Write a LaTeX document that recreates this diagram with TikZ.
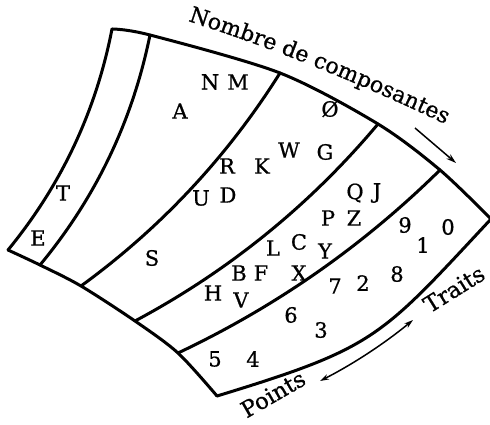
\documentclass[tikz,border=0pt]{standalone}
\usepackage{fontspec}
\setmainfont{DejaVu Serif}[FakeBold=0.8]
\usetikzlibrary{arrows.meta,decorations.text}
\begin{document}
\begin{tikzpicture}[x=1pt,y=-1pt,
  edge/.style={line width=3pt, line cap=round, line join=round},
  lbl/.style={font=\fontsize{21}{25}\selectfont, inner sep=0pt},
  axislbl/.style={font=\fontsize{22.5}{27}\selectfont, inner sep=0pt},
  arr/.style={line width=1.5pt}]
\useasboundingbox (0,0) rectangle (490,425);
% junctions on the outer (top) arc
\coordinate (t0) at (112,29);
\coordinate (t1) at (150,35);
\coordinate (t2) at (280,73);
\coordinate (t3) at (378,124);
\coordinate (t4) at (440,170);
\coordinate (t5) at (491,219);
% junctions on the inner (lower-left) arc
\coordinate (b0) at (8,250);
\coordinate (b1) at (40,265);
\coordinate (b2) at (81,286);
\coordinate (b3) at (135,321);
\coordinate (b4) at (178,353);
\coordinate (b5) at (217,396);
% arcs
\draw[edge] plot[smooth] coordinates {(t0) (t1) (t2) (t3) (t4) (t5)};
\draw[edge] plot[smooth] coordinates {(b0) (b1) (b2) (b3) (b4) (b5)};
% transversal curves
\draw[edge] (t0) .. controls (96,111.3) and (61.3,185) .. (b0);
\draw[edge] (t1) .. controls (132.5,120.9) and (95.9,197.5) .. (b1);
\draw[edge] (t2) .. controls (227.3,156.8) and (160.9,227.8) .. (b2);
\draw[edge] (t3) .. controls (309.7,205.3) and (228.7,270.9) .. (b3);
\draw[edge] (t4) .. controls (363.1,245.8) and (275.7,306.8) .. (b4);
\draw[edge] (b5) .. controls (376.3,347.4) and (379.8,338.2) .. (t5);
% curved title
\coordinate (ts) at (188,21);
\coordinate (te) at (445,124);
\path[decorate, decoration={text along path, text align=fit to path,
  text format delimiters={|}{|},
  text={|\fontsize{22}{26}\selectfont|Nombre de composantes}}]
  (ts) .. controls (276.7,49.5) and (361,83.8) .. (te);
% arrows
\coordinate (a1s) at (415,128);
\coordinate (a1e) at (456,163);
\draw[arr,-{Stealth[length=10pt,width=6pt]}] (a1s) -- (a1e);
\coordinate (a2s) at (320,381);
\coordinate (a2e) at (413,320);
\draw[arr,{Stealth[length=9pt,width=5.5pt]}-{Stealth[length=9pt,width=5.5pt]}]
  (a2s) .. controls (353.2,364) and (384.2,343.7) .. (a2e);
\node[axislbl, rotate=32] (traits) at (454,289) {Traits};
\node[axislbl, rotate=30] (points) at (273,394) {Points};
% letters
\node[lbl] (lN) at (210,82) {N};
\node[lbl] (lM) at (238,82) {M};
\node[lbl] (lA) at (180,111) {A};
\node[lbl] (lO) at (330,109) {Ø};
\node[lbl] (lR) at (227,166) {R};
\node[lbl] (lK) at (262,166) {K};
\node[lbl] (lW) at (289,150) {W};
\node[lbl] (lG) at (325,152) {G};
\node[lbl] (lU) at (201,198) {U};
\node[lbl] (lD) at (228,195) {D};
\node[lbl] (lT) at (63,193) {T};
\node[lbl] (lE) at (38,238) {E};
\node[lbl] (lS) at (152,258) {S};
\node[lbl] (lQ) at (355,193) {Q};
\node[lbl] (lJ) at (377,193) {J};
\node[lbl] (lP) at (328,218) {P};
\node[lbl] (lZ) at (354,218) {Z};
\node[lbl] (lL) at (273,248) {L};
\node[lbl] (lC) at (299,242) {C};
\node[lbl] (lY) at (325,251) {Y};
\node[lbl] (lB) at (239,273) {B};
\node[lbl] (lF) at (261,273) {F};
\node[lbl] (lX) at (299,273) {X};
\node[lbl] (lH) at (213,293) {H};
\node[lbl] (lV) at (241,300) {V};
\node[lbl] (d9) at (405,225) {9};
\node[lbl] (d0) at (448,227) {0};
\node[lbl] (d1) at (423,245) {1};
\node[lbl] (d7) at (335,286) {7};
\node[lbl] (d2) at (363,283) {2};
\node[lbl] (d8) at (397,274) {8};
\node[lbl] (d6) at (291,315) {6};
\node[lbl] (d3) at (321,330) {3};
\node[lbl] (d5) at (215,359) {5};
\node[lbl] (d4) at (253,359) {4};
\end{tikzpicture}
\end{document}
